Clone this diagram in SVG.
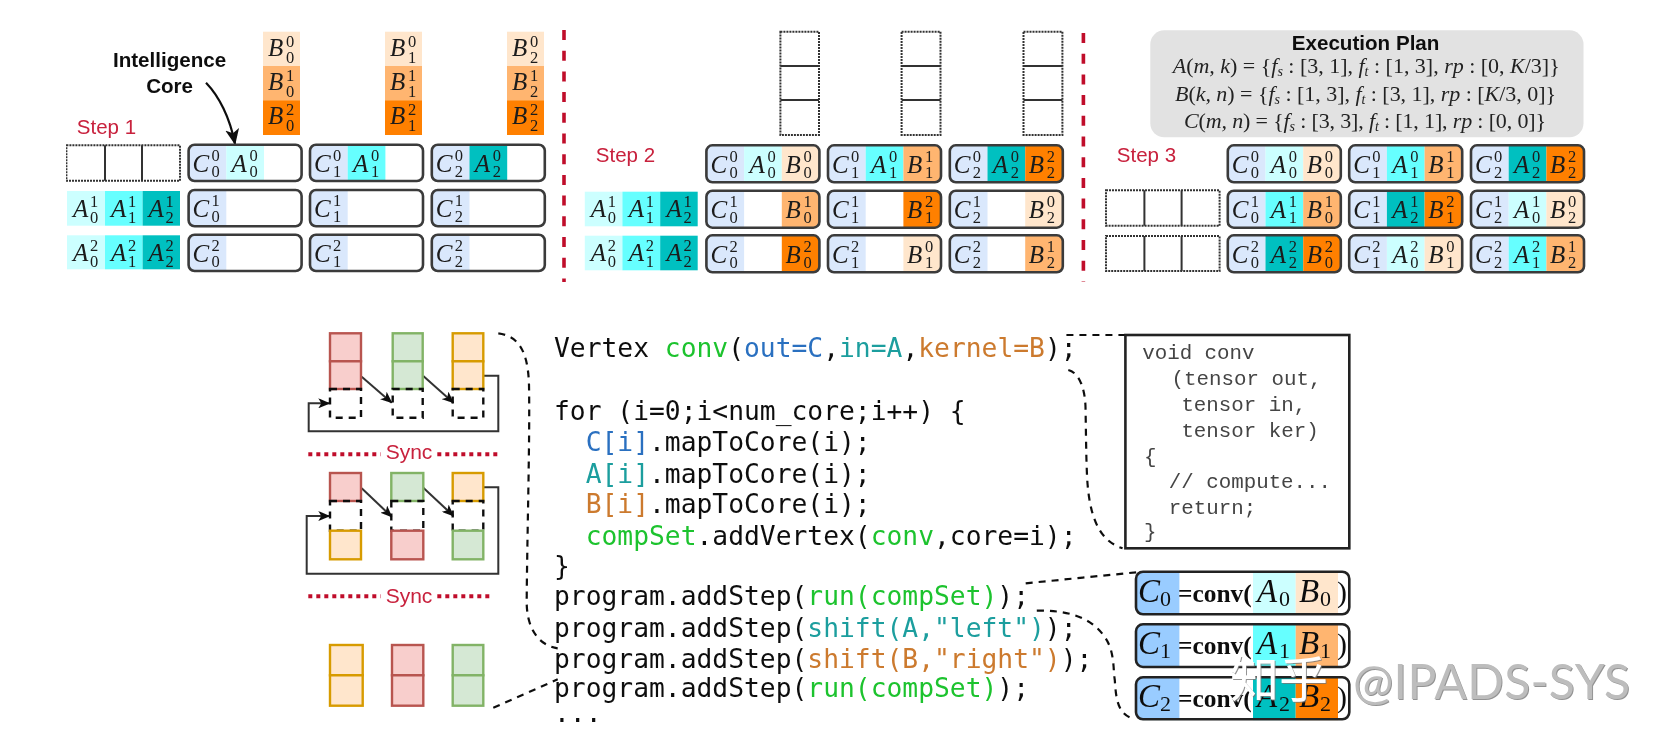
<svg xmlns="http://www.w3.org/2000/svg" width="1674" height="748" viewBox="0 0 1674 748">
<style>
text{white-space:pre}
.m{font-family:"Liberation Serif",serif;font-style:italic;font-size:25px;fill:#1a1a1a}
.s{font-style:normal;font-size:16.5px}
.seg{width:37.7px;height:37px}
.c{fill:#dae8fc}.a0{fill:#ccffff}.a1{fill:#66ffff}.a2{fill:#00c0c0}
.b0{fill:#ffe6cc}.b1{fill:#ffb570}.b2{fill:#ff8000}
.box{width:113px;height:37px;rx:6px;fill:none;stroke:#3a3a3a;stroke-width:2.6}
.h1{height:36.3px}
.dot{fill:none;stroke:#333;stroke-width:2;stroke-dasharray:2 1}
.sep{stroke:#333;stroke-width:2;fill:none}
.red{fill:#c8203c;font-family:"Liberation Sans",sans-serif;font-size:20.5px}
.rd{stroke:#c00f2c;stroke-width:3.6;stroke-dasharray:10 10.7;fill:none}
.rs{stroke:#c00f2c;stroke-width:4;stroke-dasharray:4 4;fill:none}
.lab{font-family:"Liberation Sans",sans-serif;font-weight:bold;font-size:20.6px;fill:#111}
.f{font-family:"Liberation Serif",serif;font-size:22px;fill:#222}
.i{font-style:italic}
.sb{font-size:14px;font-style:italic}
.code{font-family:"DejaVu Sans Mono",monospace;font-size:26.3px;fill:#111}
.g{fill:#1fc32f}.bl{fill:#2a70c0}.t{fill:#1c9e9e}.o{fill:#cc7a2e}
.cc{font-family:"Liberation Mono",monospace;font-size:20.8px;fill:#444}
.fr{fill:#f8cecc;stroke:#b85450;stroke-width:2.4}
.fg{fill:#d5e8d4;stroke:#82b366;stroke-width:2.4}
.fo{fill:#ffe6cc;stroke:#d79b00;stroke-width:2.4}
.dsh{fill:none;stroke:#111;stroke-width:2.4;stroke-dasharray:7 6}
.ln{fill:none;stroke:#333;stroke-width:2}
.cd{fill:none;stroke:#111;stroke-width:2.2;stroke-dasharray:7 6}
.big{font-family:"Liberation Serif",serif;font-size:33px;fill:#111}
.bs{font-style:normal;font-size:22px}
.bc{font-family:"Liberation Serif",serif;font-weight:bold;font-size:25.4px;fill:#111}
.cb{fill:#99ccff}.cbox{width:213.3px;fill:none;stroke:#222;stroke-width:2.6;rx:7px}
.wm{font-family:"Lato","Noto Sans CJK SC",sans-serif;font-size:48px;fill:#bdbdbd}
.zh{font-family:"Noto Sans CJK SC",sans-serif;font-size:49px;fill:#fff}
</style>
<defs>
<clipPath id="r"><rect width="113" height="37" rx="6"/></clipPath>
<clipPath id="rb"><rect width="213.3" height="43" rx="7"/></clipPath>
<marker id="ah" viewBox="0 0 12 10" refX="11" refY="5" markerWidth="12" markerHeight="10" markerUnits="userSpaceOnUse" orient="auto"><path d="M0,0L12,5L0,10L3,5z" fill="#111"/></marker>
<marker id="ab" viewBox="0 0 16 14" refX="15" refY="7" markerWidth="16" markerHeight="14" markerUnits="userSpaceOnUse" orient="auto"><path d="M0,0L16,7L0,14L4,7z" fill="#111"/></marker>
<filter id="soft" x="0" y="0" width="100%" height="100%"><feGaussianBlur stdDeviation="0.45"/></filter>
<filter id="wsh" x="-10%" y="-10%" width="120%" height="120%"><feDropShadow dx="1" dy="1" stdDeviation="0.6" flood-color="#777" flood-opacity=".8"/></filter>
</defs>
<g filter="url(#soft)">
<g id="connectors">
<path class="rd" d="M564 30V282"/>
<path class="rd" d="M1083.4 33V282"/>
<path d="M206 82.7C219 96 230 118 235 144" fill="none" stroke="#111" stroke-width="2.2" marker-end="url(#ab)"/>
<path class="ln" d="M483.3 375.7H498.3V431.3H308.7V403.3H329.3" marker-end="url(#ah)"/>
<path class="ln" d="M361.7 376.7L391.7 402.7" marker-end="url(#ah)"/>
<path class="ln" d="M423.3 376L453.3 402.7" marker-end="url(#ah)"/>
<path class="ln" d="M483.3 487.3H498.3V573.7H306.7V516H329.3" marker-end="url(#ah)"/>
<path class="ln" d="M361.7 488.3L391.7 516.7" marker-end="url(#ah)"/>
<path class="ln" d="M423.3 487.7L453.3 515.7" marker-end="url(#ah)"/>
<path class="rs" d="M308.3 454.3H380.7M437.3 454.3H498.3"/>
<path class="rs" d="M308.3 596.3H380.7M437.3 596.3H492.7"/>
<path class="cd" d="M498.3 333.3C518 336 528 350 529 385C530 440 527 540 526.7 603C527 630 540 646 557.7 648.3"/>
<path class="cd" d="M493.3 707.7L546.7 684.3L557.7 679.3"/>
<path class="cd" d="M1066.4 335H1125"/>
<path class="cd" d="M1068.3 370C1080 373 1085 390 1085.5 406.7C1086 430 1086 450 1086.8 470C1088 510 1096 540 1122.6 548.3"/>
<path class="cd" d="M1025.7 583.3L1136.3 572.3"/>
<path class="cd" d="M1036.8 610.7C1065 610 1090 616 1104 636C1115 650 1113 670 1114.8 680C1116 700 1118 715 1134.4 719"/>
</g>

<text class="lab" x="169.6" y="66.7" text-anchor="middle">Intelligence</text>
<text class="lab" x="169.6" y="93" text-anchor="middle">Core</text>
<text class="red" x="76.8" y="134.3">Step 1</text>
<text class="red" x="595.8" y="161.7">Step 2</text>
<text class="red" x="1116.8" y="161.7">Step 3</text>

<g id="s1-b0" transform="translate(263 31.7)"><rect class="b0" width="37" height="34.4"/><rect class="b1" y="34.3" width="37" height="34.4"/><rect class="b2" y="68.6" width="37" height="34.7"/>
<text class="m" x="5" y="24">B<tspan class="s" x="23" y="15">0</tspan><tspan class="s" x="23" y="31">0</tspan></text>
<text class="m" x="5" y="58.3">B<tspan class="s" x="23" y="49.3">1</tspan><tspan class="s" x="23" y="65.3">0</tspan></text>
<text class="m" x="5" y="92.6">B<tspan class="s" x="23" y="83.6">2</tspan><tspan class="s" x="23" y="99.6">0</tspan></text></g>
<g id="s1-b1" transform="translate(385 31.7)"><rect class="b0" width="37" height="34.4"/><rect class="b1" y="34.3" width="37" height="34.4"/><rect class="b2" y="68.6" width="37" height="34.7"/>
<text class="m" x="5" y="24">B<tspan class="s" x="23" y="15">0</tspan><tspan class="s" x="23" y="31">1</tspan></text>
<text class="m" x="5" y="58.3">B<tspan class="s" x="23" y="49.3">1</tspan><tspan class="s" x="23" y="65.3">1</tspan></text>
<text class="m" x="5" y="92.6">B<tspan class="s" x="23" y="83.6">2</tspan><tspan class="s" x="23" y="99.6">1</tspan></text></g>
<g id="s1-b2" transform="translate(507 31.7)"><rect class="b0" width="37" height="34.4"/><rect class="b1" y="34.3" width="37" height="34.4"/><rect class="b2" y="68.6" width="37" height="34.7"/>
<text class="m" x="5" y="24">B<tspan class="s" x="23" y="15">0</tspan><tspan class="s" x="23" y="31">2</tspan></text>
<text class="m" x="5" y="58.3">B<tspan class="s" x="23" y="49.3">1</tspan><tspan class="s" x="23" y="65.3">2</tspan></text>
<text class="m" x="5" y="92.6">B<tspan class="s" x="23" y="83.6">2</tspan><tspan class="s" x="23" y="99.6">2</tspan></text></g>

<g id="s1-ae"><rect class="dot" x="66.4" y="145.3" width="113.6" height="35.4"/><path class="sep" d="M105 145.3V180.7M142 145.3V180.7"/></g>
<g id="s1-a1" transform="translate(67 191)"><rect class="a0" width="38" height="34.7"/><rect class="a1" x="38" width="37.6" height="34.7"/><rect class="a2" x="75.6" width="37.4" height="34.7"/>
<text class="m" x="6" y="25.7">A<tspan class="s" x="23" y="15.7">1</tspan><tspan class="s" x="23" y="31.7">0</tspan></text>
<text class="m" x="44" y="25.7">A<tspan class="s" x="61" y="15.7">1</tspan><tspan class="s" x="61" y="31.7">1</tspan></text>
<text class="m" x="81.6" y="25.7">A<tspan class="s" x="98.6" y="15.7">1</tspan><tspan class="s" x="98.6" y="31.7">2</tspan></text></g>
<g id="s1-a2" transform="translate(67 235.3)"><rect class="a0" width="38" height="34"/><rect class="a1" x="38" width="37.6" height="34"/><rect class="a2" x="75.6" width="37.4" height="34"/>
<text class="m" x="6" y="25.7">A<tspan class="s" x="23" y="15.7">2</tspan><tspan class="s" x="23" y="31.7">0</tspan></text>
<text class="m" x="44" y="25.7">A<tspan class="s" x="61" y="15.7">2</tspan><tspan class="s" x="61" y="31.7">1</tspan></text>
<text class="m" x="81.6" y="25.7">A<tspan class="s" x="98.6" y="15.7">2</tspan><tspan class="s" x="98.6" y="31.7">2</tspan></text></g>

<g id="s1-c00" transform="translate(188.6 144.7)"><g clip-path="url(#r)"><rect class="seg c"/><rect class="seg a0" x="37.7"/></g><rect class="box h1"/><text class="m" x="4" y="27">C<tspan class="s" x="23" y="16">0</tspan><tspan class="s" x="23" y="32">0</tspan></text><text class="m" x="43" y="27">A<tspan class="s" x="61" y="16">0</tspan><tspan class="s" x="61" y="32">0</tspan></text></g>
<g id="s1-c01" transform="translate(310 144.7)"><g clip-path="url(#r)"><rect class="seg c"/><rect class="seg a1" x="37.7"/></g><rect class="box h1"/><text class="m" x="4" y="27">C<tspan class="s" x="23" y="16">0</tspan><tspan class="s" x="23" y="32">1</tspan></text><text class="m" x="43" y="27">A<tspan class="s" x="61" y="16">0</tspan><tspan class="s" x="61" y="32">1</tspan></text></g>
<g id="s1-c02" transform="translate(431.8 144.7)"><g clip-path="url(#r)"><rect class="seg c"/><rect class="seg a2" x="37.7"/></g><rect class="box h1"/><text class="m" x="4" y="27">C<tspan class="s" x="23" y="16">0</tspan><tspan class="s" x="23" y="32">2</tspan></text><text class="m" x="43" y="27">A<tspan class="s" x="61" y="16">0</tspan><tspan class="s" x="61" y="32">2</tspan></text></g>
<g id="s1-c10" transform="translate(188.6 190)"><g clip-path="url(#r)"><rect class="seg c"/></g><rect class="box h1"/><text class="m" x="4" y="27">C<tspan class="s" x="23" y="16">1</tspan><tspan class="s" x="23" y="32">0</tspan></text></g>
<g id="s1-c11" transform="translate(310 190)"><g clip-path="url(#r)"><rect class="seg c"/></g><rect class="box h1"/><text class="m" x="4" y="27">C<tspan class="s" x="23" y="16">1</tspan><tspan class="s" x="23" y="32">1</tspan></text></g>
<g id="s1-c12" transform="translate(431.8 190)"><g clip-path="url(#r)"><rect class="seg c"/></g><rect class="box h1"/><text class="m" x="4" y="27">C<tspan class="s" x="23" y="16">1</tspan><tspan class="s" x="23" y="32">2</tspan></text></g>
<g id="s1-c20" transform="translate(188.6 234.7)"><g clip-path="url(#r)"><rect class="seg c"/></g><rect class="box h1"/><text class="m" x="4" y="27">C<tspan class="s" x="23" y="16">2</tspan><tspan class="s" x="23" y="32">0</tspan></text></g>
<g id="s1-c21" transform="translate(310 234.7)"><g clip-path="url(#r)"><rect class="seg c"/></g><rect class="box h1"/><text class="m" x="4" y="27">C<tspan class="s" x="23" y="16">2</tspan><tspan class="s" x="23" y="32">1</tspan></text></g>
<g id="s1-c22" transform="translate(431.8 234.7)"><g clip-path="url(#r)"><rect class="seg c"/></g><rect class="box h1"/><text class="m" x="4" y="27">C<tspan class="s" x="23" y="16">2</tspan><tspan class="s" x="23" y="32">2</tspan></text></g>

<g id="s2-be0"><rect class="dot" x="780.4" y="31.7" width="38.6" height="103.3"/><path class="sep" d="M780.4 66H819M780.4 100H819"/></g>
<g id="s2-be1"><rect class="dot" x="901.6" y="31.7" width="38.9" height="103.3"/><path class="sep" d="M901.6 66H940.5M901.6 100H940.5"/></g>
<g id="s2-be2"><rect class="dot" x="1023.5" y="31.7" width="38.9" height="103.3"/><path class="sep" d="M1023.5 66H1062.4M1023.5 100H1062.4"/></g>

<g id="s2-a1" transform="translate(584.8 191.7)"><rect class="a0" width="37.6" height="34.6"/><rect class="a1" x="37.6" width="37.8" height="34.6"/><rect class="a2" x="75.4" width="37.5" height="34.6"/>
<text class="m" x="6" y="25.7">A<tspan class="s" x="23" y="15.7">1</tspan><tspan class="s" x="23" y="31.7">0</tspan></text>
<text class="m" x="44" y="25.7">A<tspan class="s" x="61" y="15.7">1</tspan><tspan class="s" x="61" y="31.7">1</tspan></text>
<text class="m" x="81.6" y="25.7">A<tspan class="s" x="98.6" y="15.7">1</tspan><tspan class="s" x="98.6" y="31.7">2</tspan></text></g>
<g id="s2-a2" transform="translate(584.8 235.7)"><rect class="a0" width="37.6" height="34.6"/><rect class="a1" x="37.6" width="37.8" height="34.6"/><rect class="a2" x="75.4" width="37.5" height="34.6"/>
<text class="m" x="6" y="25.7">A<tspan class="s" x="23" y="15.7">2</tspan><tspan class="s" x="23" y="31.7">0</tspan></text>
<text class="m" x="44" y="25.7">A<tspan class="s" x="61" y="15.7">2</tspan><tspan class="s" x="61" y="31.7">1</tspan></text>
<text class="m" x="81.6" y="25.7">A<tspan class="s" x="98.6" y="15.7">2</tspan><tspan class="s" x="98.6" y="31.7">2</tspan></text></g>

<g id="s2-c00" transform="translate(706.4 145.3)"><g clip-path="url(#r)"><rect class="seg c"/><rect class="seg a0" x="37.7"/><rect class="seg b0" x="75.4"/></g><rect class="box"/><text class="m" x="4" y="27.5">C<tspan class="s" x="23" y="16.5">0</tspan><tspan class="s" x="23" y="32.5">0</tspan></text><text class="m" x="43" y="27.5">A<tspan class="s" x="61" y="16.5">0</tspan><tspan class="s" x="61" y="32.5">0</tspan></text><text class="m" x="79" y="27.5">B<tspan class="s" x="97" y="16.5">0</tspan><tspan class="s" x="97" y="32.5">0</tspan></text></g>
<g id="s2-c01" transform="translate(828 145.3)"><g clip-path="url(#r)"><rect class="seg c"/><rect class="seg a1" x="37.7"/><rect class="seg b1" x="75.4"/></g><rect class="box"/><text class="m" x="4" y="27.5">C<tspan class="s" x="23" y="16.5">0</tspan><tspan class="s" x="23" y="32.5">1</tspan></text><text class="m" x="43" y="27.5">A<tspan class="s" x="61" y="16.5">0</tspan><tspan class="s" x="61" y="32.5">1</tspan></text><text class="m" x="79" y="27.5">B<tspan class="s" x="97" y="16.5">1</tspan><tspan class="s" x="97" y="32.5">1</tspan></text></g>
<g id="s2-c02" transform="translate(949.8 145.3)"><g clip-path="url(#r)"><rect class="seg c"/><rect class="seg a2" x="37.7"/><rect class="seg b2" x="75.4"/></g><rect class="box"/><text class="m" x="4" y="27.5">C<tspan class="s" x="23" y="16.5">0</tspan><tspan class="s" x="23" y="32.5">2</tspan></text><text class="m" x="43" y="27.5">A<tspan class="s" x="61" y="16.5">0</tspan><tspan class="s" x="61" y="32.5">2</tspan></text><text class="m" x="79" y="27.5">B<tspan class="s" x="97" y="16.5">2</tspan><tspan class="s" x="97" y="32.5">2</tspan></text></g>
<g id="s2-c10" transform="translate(706.4 190.7)"><g clip-path="url(#r)"><rect class="seg c"/><rect class="seg b1" x="75.4"/></g><rect class="box"/><text class="m" x="4" y="27.5">C<tspan class="s" x="23" y="16.5">1</tspan><tspan class="s" x="23" y="32.5">0</tspan></text><text class="m" x="79" y="27.5">B<tspan class="s" x="97" y="16.5">1</tspan><tspan class="s" x="97" y="32.5">0</tspan></text></g>
<g id="s2-c11" transform="translate(828 190.7)"><g clip-path="url(#r)"><rect class="seg c"/><rect class="seg b2" x="75.4"/></g><rect class="box"/><text class="m" x="4" y="27.5">C<tspan class="s" x="23" y="16.5">1</tspan><tspan class="s" x="23" y="32.5">1</tspan></text><text class="m" x="79" y="27.5">B<tspan class="s" x="97" y="16.5">2</tspan><tspan class="s" x="97" y="32.5">1</tspan></text></g>
<g id="s2-c12" transform="translate(949.8 190.7)"><g clip-path="url(#r)"><rect class="seg c"/><rect class="seg b0" x="75.4"/></g><rect class="box"/><text class="m" x="4" y="27.5">C<tspan class="s" x="23" y="16.5">1</tspan><tspan class="s" x="23" y="32.5">2</tspan></text><text class="m" x="79" y="27.5">B<tspan class="s" x="97" y="16.5">0</tspan><tspan class="s" x="97" y="32.5">2</tspan></text></g>
<g id="s2-c20" transform="translate(706.4 235.3)"><g clip-path="url(#r)"><rect class="seg c"/><rect class="seg b2" x="75.4"/></g><rect class="box"/><text class="m" x="4" y="27.5">C<tspan class="s" x="23" y="16.5">2</tspan><tspan class="s" x="23" y="32.5">0</tspan></text><text class="m" x="79" y="27.5">B<tspan class="s" x="97" y="16.5">2</tspan><tspan class="s" x="97" y="32.5">0</tspan></text></g>
<g id="s2-c21" transform="translate(828 235.3)"><g clip-path="url(#r)"><rect class="seg c"/><rect class="seg b0" x="75.4"/></g><rect class="box"/><text class="m" x="4" y="27.5">C<tspan class="s" x="23" y="16.5">2</tspan><tspan class="s" x="23" y="32.5">1</tspan></text><text class="m" x="79" y="27.5">B<tspan class="s" x="97" y="16.5">0</tspan><tspan class="s" x="97" y="32.5">1</tspan></text></g>
<g id="s2-c22" transform="translate(949.8 235.3)"><g clip-path="url(#r)"><rect class="seg c"/><rect class="seg b1" x="75.4"/></g><rect class="box"/><text class="m" x="4" y="27.5">C<tspan class="s" x="23" y="16.5">2</tspan><tspan class="s" x="23" y="32.5">2</tspan></text><text class="m" x="79" y="27.5">B<tspan class="s" x="97" y="16.5">1</tspan><tspan class="s" x="97" y="32.5">2</tspan></text></g>

<g id="plan"><rect x="1150.3" y="30.3" width="433.2" height="107" rx="14" fill="#e2e2e2"/>
<text class="lab" x="1365.6" y="50" text-anchor="middle">Execution Plan</text>
<text class="f" x="1172.7" y="72.7" textLength="387"><tspan class="i">A</tspan>(<tspan class="i">m, k</tspan>) = {<tspan class="i">f</tspan><tspan class="sb" dy="3">s</tspan><tspan dy="-3"> : [3, 1], </tspan><tspan class="i">f</tspan><tspan class="sb" dy="3">t</tspan><tspan dy="-3"> : [1, 3], </tspan><tspan class="i">rp</tspan> : [0, <tspan class="i">K</tspan>/3]}</text>
<text class="f" x="1175" y="100.7" textLength="381"><tspan class="i">B</tspan>(<tspan class="i">k, n</tspan>) = {<tspan class="i">f</tspan><tspan class="sb" dy="3">s</tspan><tspan dy="-3"> : [1, 3], </tspan><tspan class="i">f</tspan><tspan class="sb" dy="3">t</tspan><tspan dy="-3"> : [3, 1], </tspan><tspan class="i">rp</tspan> : [<tspan class="i">K</tspan>/3, 0]}</text>
<text class="f" x="1184" y="128.3" textLength="362"><tspan class="i">C</tspan>(<tspan class="i">m, n</tspan>) = {<tspan class="i">f</tspan><tspan class="sb" dy="3">s</tspan><tspan dy="-3"> : [3, 3], </tspan><tspan class="i">f</tspan><tspan class="sb" dy="3">t</tspan><tspan dy="-3"> : [1, 1], </tspan><tspan class="i">rp</tspan> : [0, 0]}</text></g>

<g id="s3-ae1"><rect class="dot" x="1106" y="190.3" width="113.6" height="35.4"/><path class="sep" d="M1144.4 190.3V225.7M1181.6 190.3V225.7"/></g>
<g id="s3-ae2"><rect class="dot" x="1106" y="236" width="113.6" height="35"/><path class="sep" d="M1144.4 236V271M1181.6 236V271"/></g>

<g id="s3-c00" transform="translate(1227.8 145.3)"><g clip-path="url(#r)"><rect class="seg c"/><rect class="seg a0" x="37.7"/><rect class="seg b0" x="75.4"/></g><rect class="box"/><text class="m" x="4" y="27.5">C<tspan class="s" x="23" y="16.5">0</tspan><tspan class="s" x="23" y="32.5">0</tspan></text><text class="m" x="43" y="27.5">A<tspan class="s" x="61" y="16.5">0</tspan><tspan class="s" x="61" y="32.5">0</tspan></text><text class="m" x="79" y="27.5">B<tspan class="s" x="97" y="16.5">0</tspan><tspan class="s" x="97" y="32.5">0</tspan></text></g>
<g id="s3-c01" transform="translate(1349.2 145.3)"><g clip-path="url(#r)"><rect class="seg c"/><rect class="seg a1" x="37.7"/><rect class="seg b1" x="75.4"/></g><rect class="box"/><text class="m" x="4" y="27.5">C<tspan class="s" x="23" y="16.5">0</tspan><tspan class="s" x="23" y="32.5">1</tspan></text><text class="m" x="43" y="27.5">A<tspan class="s" x="61" y="16.5">0</tspan><tspan class="s" x="61" y="32.5">1</tspan></text><text class="m" x="79" y="27.5">B<tspan class="s" x="97" y="16.5">1</tspan><tspan class="s" x="97" y="32.5">1</tspan></text></g>
<g id="s3-c02" transform="translate(1471 145.3)"><g clip-path="url(#r)"><rect class="seg c"/><rect class="seg a2" x="37.7"/><rect class="seg b2" x="75.4"/></g><rect class="box"/><text class="m" x="4" y="27.5">C<tspan class="s" x="23" y="16.5">0</tspan><tspan class="s" x="23" y="32.5">2</tspan></text><text class="m" x="43" y="27.5">A<tspan class="s" x="61" y="16.5">0</tspan><tspan class="s" x="61" y="32.5">2</tspan></text><text class="m" x="79" y="27.5">B<tspan class="s" x="97" y="16.5">2</tspan><tspan class="s" x="97" y="32.5">2</tspan></text></g>
<g id="s3-c10" transform="translate(1227.8 190.7)"><g clip-path="url(#r)"><rect class="seg c"/><rect class="seg a1" x="37.7"/><rect class="seg b1" x="75.4"/></g><rect class="box"/><text class="m" x="4" y="27.5">C<tspan class="s" x="23" y="16.5">1</tspan><tspan class="s" x="23" y="32.5">0</tspan></text><text class="m" x="43" y="27.5">A<tspan class="s" x="61" y="16.5">1</tspan><tspan class="s" x="61" y="32.5">1</tspan></text><text class="m" x="79" y="27.5">B<tspan class="s" x="97" y="16.5">1</tspan><tspan class="s" x="97" y="32.5">0</tspan></text></g>
<g id="s3-c11" transform="translate(1349.2 190.7)"><g clip-path="url(#r)"><rect class="seg c"/><rect class="seg a2" x="37.7"/><rect class="seg b2" x="75.4"/></g><rect class="box"/><text class="m" x="4" y="27.5">C<tspan class="s" x="23" y="16.5">1</tspan><tspan class="s" x="23" y="32.5">1</tspan></text><text class="m" x="43" y="27.5">A<tspan class="s" x="61" y="16.5">1</tspan><tspan class="s" x="61" y="32.5">2</tspan></text><text class="m" x="79" y="27.5">B<tspan class="s" x="97" y="16.5">2</tspan><tspan class="s" x="97" y="32.5">1</tspan></text></g>
<g id="s3-c12" transform="translate(1471 190.7)"><g clip-path="url(#r)"><rect class="seg c"/><rect class="seg a0" x="37.7"/><rect class="seg b0" x="75.4"/></g><rect class="box"/><text class="m" x="4" y="27.5">C<tspan class="s" x="23" y="16.5">1</tspan><tspan class="s" x="23" y="32.5">2</tspan></text><text class="m" x="43" y="27.5">A<tspan class="s" x="61" y="16.5">1</tspan><tspan class="s" x="61" y="32.5">0</tspan></text><text class="m" x="79" y="27.5">B<tspan class="s" x="97" y="16.5">0</tspan><tspan class="s" x="97" y="32.5">2</tspan></text></g>
<g id="s3-c20" transform="translate(1227.8 235.3)"><g clip-path="url(#r)"><rect class="seg c"/><rect class="seg a2" x="37.7"/><rect class="seg b2" x="75.4"/></g><rect class="box"/><text class="m" x="4" y="27.5">C<tspan class="s" x="23" y="16.5">2</tspan><tspan class="s" x="23" y="32.5">0</tspan></text><text class="m" x="43" y="27.5">A<tspan class="s" x="61" y="16.5">2</tspan><tspan class="s" x="61" y="32.5">2</tspan></text><text class="m" x="79" y="27.5">B<tspan class="s" x="97" y="16.5">2</tspan><tspan class="s" x="97" y="32.5">0</tspan></text></g>
<g id="s3-c21" transform="translate(1349.2 235.3)"><g clip-path="url(#r)"><rect class="seg c"/><rect class="seg a0" x="37.7"/><rect class="seg b0" x="75.4"/></g><rect class="box"/><text class="m" x="4" y="27.5">C<tspan class="s" x="23" y="16.5">2</tspan><tspan class="s" x="23" y="32.5">1</tspan></text><text class="m" x="43" y="27.5">A<tspan class="s" x="61" y="16.5">2</tspan><tspan class="s" x="61" y="32.5">0</tspan></text><text class="m" x="79" y="27.5">B<tspan class="s" x="97" y="16.5">0</tspan><tspan class="s" x="97" y="32.5">1</tspan></text></g>
<g id="s3-c22" transform="translate(1471 235.3)"><g clip-path="url(#r)"><rect class="seg c"/><rect class="seg a1" x="37.7"/><rect class="seg b1" x="75.4"/></g><rect class="box"/><text class="m" x="4" y="27.5">C<tspan class="s" x="23" y="16.5">2</tspan><tspan class="s" x="23" y="32.5">2</tspan></text><text class="m" x="43" y="27.5">A<tspan class="s" x="61" y="16.5">2</tspan><tspan class="s" x="61" y="32.5">1</tspan></text><text class="m" x="79" y="27.5">B<tspan class="s" x="97" y="16.5">1</tspan><tspan class="s" x="97" y="32.5">2</tspan></text></g>

<g id="t1-r"><rect class="fr" x="330" y="333.3" width="31" height="28"/><rect class="fr" x="330" y="361.3" width="31" height="27.7"/><rect class="dsh" x="330" y="389" width="31" height="28.7"/></g>
<g id="t1-g"><rect class="fg" x="392.7" y="333.3" width="30" height="28"/><rect class="fg" x="392.7" y="361.3" width="30" height="27.7"/><rect class="dsh" x="392.7" y="389" width="30" height="28.7"/></g>
<g id="t1-o"><rect class="fo" x="452.7" y="333.3" width="30.6" height="28"/><rect class="fo" x="452.7" y="361.3" width="30.6" height="27.7"/><rect class="dsh" x="452.7" y="389" width="30.6" height="28.7"/></g>
<text class="red" x="385.7" y="459.3" style="font-size:21px">Sync</text>
<g id="t2-1"><rect class="fr" x="330" y="473" width="31" height="28"/><rect class="dsh" x="330" y="501" width="31" height="29.7"/><rect class="fo" x="330" y="530.7" width="31" height="28.6"/></g>
<g id="t2-2"><rect class="fg" x="391.3" y="473" width="32" height="28"/><rect class="dsh" x="391.3" y="501" width="32" height="29.7"/><rect class="fr" x="391.3" y="530.7" width="32" height="28.6"/></g>
<g id="t2-3"><rect class="fo" x="452.7" y="473" width="30.6" height="28"/><rect class="dsh" x="452.7" y="501" width="30.6" height="29.7"/><rect class="fg" x="452.7" y="530.7" width="30.6" height="28.6"/></g>
<text class="red" x="385.7" y="602.7" style="font-size:21px">Sync</text>
<g id="t3-o"><rect class="fo" x="330" y="645" width="32.7" height="30.3"/><rect class="fo" x="330" y="675.3" width="32.7" height="30.4"/></g>
<g id="t3-r"><rect class="fr" x="392" y="645" width="31.3" height="30.3"/><rect class="fr" x="392" y="675.3" width="31.3" height="30.4"/></g>
<g id="t3-g"><rect class="fg" x="452.7" y="645" width="30.6" height="30.3"/><rect class="fg" x="452.7" y="675.3" width="30.6" height="30.4"/></g>

<g id="code">
<text class="code" x="554" y="357.3">Vertex <tspan class="g">conv</tspan>(<tspan class="bl">out=C</tspan>,<tspan class="t">in=A</tspan>,<tspan class="o">kernel=B</tspan>);</text>
<text class="code" x="554" y="420">for (i=0;i&lt;num_core;i++) {</text>
<text class="code" x="585.7" y="451"><tspan class="bl">C[i]</tspan>.mapToCore(i);</text>
<text class="code" x="585.7" y="483.3"><tspan class="t">A[i]</tspan>.mapToCore(i);</text>
<text class="code" x="585.7" y="513.3"><tspan class="o">B[i]</tspan>.mapToCore(i);</text>
<text class="code" x="585.7" y="545"><tspan class="g">compSet</tspan>.addVertex(<tspan class="g">conv</tspan>,core=i);</text>
<text class="code" x="554" y="575">}</text>
<text class="code" x="554" y="605">program.addStep(<tspan class="g">run(compSet)</tspan>);</text>
<text class="code" x="554" y="636.7">program.addStep(<tspan class="t">shift(A,"left")</tspan>);</text>
<text class="code" x="554" y="668.3">program.addStep(<tspan class="o">shift(B,"right")</tspan>);</text>
<text class="code" x="554" y="696.7">program.addStep(<tspan class="g">run(compSet)</tspan>);</text>
<text class="code" x="554" y="721.7">...</text>
</g>

<g id="conv-box"><rect x="1125.4" y="335" width="223.9" height="213.3" fill="#fff" stroke="#222" stroke-width="2.6"/>
<text class="cc" x="1142.2" y="359.3">void conv</text>
<text class="cc" x="1171.6" y="385">(tensor out,</text>
<text class="cc" x="1181.4" y="410.7">tensor in,</text>
<text class="cc" x="1181.4" y="437.3">tensor ker)</text>
<text class="cc" x="1144" y="462.7">{</text>
<text class="cc" x="1168.8" y="488.3">// compute...</text>
<text class="cc" x="1168.8" y="514">return;</text>
<text class="cc" x="1144" y="538">}</text></g>

<g id="r0" transform="translate(1136 571.7)"><g clip-path="url(#rb)"><rect class="cb" width="43.4" height="43"/><rect class="a0" x="117" width="42.7" height="43"/><rect class="b0" x="159.7" width="42.3" height="43"/></g><rect class="cbox" height="42.6"/>
<text class="big i" x="2" y="30">C<tspan class="bs" x="24" y="34">0</tspan></text><text class="bc" x="42" y="30">=conv(</text><text class="big i" x="121" y="30">A<tspan class="bs" x="143" y="34">0</tspan></text><text class="big i" x="163" y="30">B<tspan class="bs" x="184" y="34">0</tspan></text><text class="big" x="201" y="30" style="font-size:30px">)</text></g>
<g id="r1" transform="translate(1136 624.3)"><g clip-path="url(#rb)"><rect class="cb" width="43.4" height="43"/><rect class="a1" x="117" width="42.7" height="43"/><rect class="b1" x="159.7" width="42.3" height="43"/></g><rect class="cbox" height="42.7"/>
<text class="big i" x="2" y="30">C<tspan class="bs" x="24" y="34">1</tspan></text><text class="bc" x="42" y="30">=conv(</text><text class="big i" x="121" y="30">A<tspan class="bs" x="143" y="34">1</tspan></text><text class="big i" x="163" y="30">B<tspan class="bs" x="184" y="34">1</tspan></text><text class="big" x="201" y="30" style="font-size:30px">)</text></g>
<g id="r2" transform="translate(1136 677.3)"><g clip-path="url(#rb)"><rect class="cb" width="43.4" height="43"/><rect class="a2" x="117" width="42.7" height="43"/><rect class="b2" x="159.7" width="42.3" height="43"/></g><rect class="cbox" height="42"/>
<text class="big i" x="2" y="30">C<tspan class="bs" x="24" y="34">2</tspan></text><text class="bc" x="42" y="30">=conv(</text><text class="big i" x="121" y="30">A<tspan class="bs" x="143" y="34">2</tspan></text><text class="big i" x="163" y="30">B<tspan class="bs" x="184" y="34">2</tspan></text><text class="big" x="201" y="30" style="font-size:30px">)</text></g>

<text class="zh" x="1230" y="697" filter="url(#wsh)">知乎</text>
<text class="wm" x="1353" y="699" textLength="277" filter="url(#wsh)">@IPADS-SYS</text>
</g>
</svg>
